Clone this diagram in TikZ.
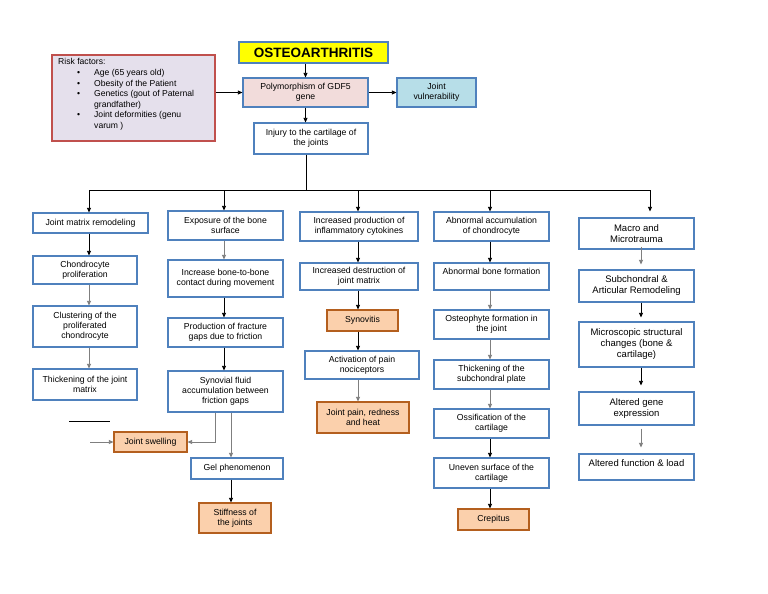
\documentclass[tikz,border=0pt]{standalone}
\usepackage{fontspec}
\setmainfont{Liberation Sans}
\usetikzlibrary{arrows.meta,calc}
\definecolor{bxblue}{HTML}{4F81BD}
\definecolor{riskred}{HTML}{C0504D}
\definecolor{riskfill}{HTML}{E5E0EC}
\definecolor{polyfill}{HTML}{F2DCDB}
\definecolor{vulnfill}{HTML}{B7DEE8}
\definecolor{orfill}{HTML}{FBD0AC}
\definecolor{ordraw}{HTML}{B45F1E}
\definecolor{titlefill}{HTML}{FFFF00}
\definecolor{lngray}{HTML}{7F7F7F}
\tikzset{
  bx/.style={draw=bxblue, line width=1.2pt, fill=white, align=center, inner sep=2pt,
    font=\fontsize{8.7}{10.2}\selectfont},
  bxw/.style={bx, font=\fontsize{9.5}{11}\selectfont},
  orbox/.style={bx, draw=ordraw, fill=orfill},
  riskbox/.style={draw=riskred, line width=2.2pt, fill=riskfill, minimum width=163pt, minimum height=86pt},
  titlebox/.style={draw=bxblue, line width=1.2pt, fill=titlefill, font=\fontsize{13.5}{15}\selectfont\bfseries,
    minimum width=149pt, minimum height=21pt, inner sep=0pt},
  arr/.style={draw=black, line width=0.8pt, -{Triangle[length=4.5pt,width=4pt]}},
  arrg/.style={arr, draw=lngray},
  ln/.style={draw=black, line width=0.8pt},
  sz/.style 2 args={minimum width=#1pt, minimum height=#2pt},
}
\begin{document}
\begin{tikzpicture}[x=1pt,y=-1pt]
\useasboundingbox[fill=white] (0,0) rectangle (768,594);

% top
\node[titlebox] (title) at (313.5,52.5) {OSTEOARTHRITIS};
\node[riskbox] (risk) at (133.5,98) {};
\node[anchor=north west, align=left, inner sep=0pt, font=\fontsize{8.6}{10.6}\selectfont] (risktext) at (58,58.5)
{Risk factors:\\
\makebox[36pt][l]{\hspace*{19pt}\textbullet}Age (65 years old)\\
\makebox[36pt][l]{\hspace*{19pt}\textbullet}Obesity of the Patient\\
\makebox[36pt][l]{\hspace*{19pt}\textbullet}Genetics (gout of Paternal\\
\hspace*{36pt}grandfather)\\
\makebox[36pt][l]{\hspace*{19pt}\textbullet}Joint deformities (genu\\
\hspace*{36pt}varum )};
\node[bx, fill=polyfill, sz={125}{29}] (poly) at (305.5,92.5) {Polymorphism of GDF5\\gene};
\node[bx, fill=vulnfill, sz={79}{29}] (vuln) at (436.5,92.5) {Joint\\vulnerability};
\node[bx, sz={114}{31}] (injury) at (311,138.5) {Injury to the cartilage of\\the joints};

\draw[arr] (title.south -| poly.north) -- (poly.north);
\draw[arr] (poly.west -| risk.east) -- (poly.west);
\draw[arr] (poly.east) -- (vuln.west);
\draw[arr] (poly.south) -- (poly.south |- injury.north);

% bus
\coordinate (bus) at (306,190);
\coordinate (busL) at (89,190);
\coordinate (busR) at (650,190);
\draw[ln] (injury.south -| bus) -- (bus);
\draw[ln] (busL) -- (busR);

% column 1
\node[bx, sz={115}{20}] (jmr) at (90.5,223) {Joint matrix remodeling};
\node[bx, sz={104}{28}] (chon) at (85,270) {Chondrocyte\\proliferation};
\node[bx, sz={104}{41}] (clus) at (85,326.5) {Clustering of the\\proliferated\\chondrocyte};
\node[bx, sz={104}{31}] (thjm) at (85,384.5) {Thickening of the joint\\matrix};
\draw[arr] (busL) -- (busL |- jmr.north);
\draw[arr] (jmr.south -| busL) -- (chon.north -| busL);
\draw[arrg] (chon.south -| busL) -- (clus.north -| busL);
\draw[arrg] (clus.south -| busL) -- (thjm.north -| busL);

% column 2
\coordinate (c2) at (224,190);
\node[bx, sz={115}{29}] (expo) at (225.5,225.5) {Exposure of the bone\\surface};
\node[bx, sz={115}{37}] (incr) at (225.5,278.5) {Increase bone-to-bone\\contact during movement};
\node[bx, sz={115}{29}] (prod) at (225.5,332.5) {Production of fracture\\gaps due to friction};
\node[bx, sz={115}{41}] (syno) at (225.5,391.5) {Synovial fluid\\accumulation between\\friction gaps};
\node[orbox, sz={73}{20}] (swell) at (150.5,442) {Joint swelling};
\node[bx, sz={92}{21}] (gel) at (237,468.5) {Gel phenomenon};
\node[orbox, sz={72}{30}] (stiff) at (235,518) {Stiffness of\\the joints};
\draw[arr] (c2) -- (c2 |- expo.north);
\draw[arrg] (expo.south -| c2) -- (incr.north -| c2);
\draw[arr] (incr.south -| c2) -- (prod.north -| c2);
\draw[arr] (prod.south -| c2) -- (syno.north -| c2);
\coordinate (s1) at ($(syno.south)+(-10.5,0)$);
\coordinate (s2) at ($(syno.south)+(5.5,0)$);
\draw[arrg] (s1) |- (swell.east);
\draw[arrg] (s2) -- (s2 |- gel.north);
\draw[arr] (gel.south -| s2) -- (stiff.north -| s2);
\coordinate (swin) at (90,442);
\draw[arrg] (swin) -- (swell.west);
\coordinate (strayA) at (69,421);
\coordinate (strayB) at (110,421);
\draw[ln] (strayA) -- (strayB);

% column 3
\coordinate (c3) at (358,190);
\node[bx, sz={118}{29}] (ipic) at (359,226.5) {Increased production of\\inflammatory cytokines};
\node[bx, sz={118}{27}] (idjm) at (359,276.5) {Increased destruction of\\joint matrix};
\node[orbox, sz={71}{21}] (synov) at (362.5,320.5) {Synovitis};
\node[bx, sz={114}{28}] (actv) at (362,365) {Activation of pain\\nociceptors};
\node[orbox, sz={92}{31}] (jpain) at (363,417.5) {Joint pain, redness\\and heat};
\draw[arr] (c3) -- (c3 |- ipic.north);
\draw[arr] (ipic.south -| c3) -- (idjm.north -| c3);
\draw[arr] (idjm.south -| c3) -- (synov.north -| c3);
\draw[arr] (synov.south -| c3) -- (actv.north -| c3);
\draw[arrg] (actv.south -| c3) -- (jpain.north -| c3);

% column 4
\coordinate (c4) at (490,190);
\node[bx, sz={115}{29}] (aac) at (491.5,226.5) {Abnormal accumulation\\of chondrocyte};
\node[bx, sz={115}{27}, text depth=10pt] (abf) at (491.5,276.5) {Abnormal bone formation};
\node[bx, sz={115}{29}] (osteo) at (491.5,324.5) {Osteophyte formation in\\the joint};
\node[bx, sz={115}{29}] (thsp) at (491.5,374.5) {Thickening of the\\subchondral plate};
\node[bx, sz={115}{29}] (ossi) at (491.5,423.5) {Ossification of the\\cartilage};
\node[bx, sz={115}{30}] (unev) at (491.5,473) {Uneven surface of the\\cartilage};
\node[orbox, sz={71}{21}] (crep) at (493.5,519.5) {Crepitus};
\draw[arr] (c4) -- (c4 |- aac.north);
\draw[arr] (aac.south -| c4) -- (abf.north -| c4);
\draw[arrg] (abf.south -| c4) -- (osteo.north -| c4);
\draw[arrg] (osteo.south -| c4) -- (thsp.north -| c4);
\draw[arrg] (thsp.south -| c4) -- (ossi.north -| c4);
\draw[arr] (ossi.south -| c4) -- (unev.north -| c4);
\draw[arr] (unev.south -| c4) -- (crep.north -| c4);

% column 5
\coordinate (c5) at (641,190);
\node[bxw, sz={115}{31}] (macro) at (636.5,233.5) {Macro and\\Microtrauma};
\node[bxw, sz={115}{32}] (subc) at (636.5,286) {Subchondral \&\\Articular Remodeling};
\node[bxw, sz={115}{45}] (micro) at (636.5,344.5) {Microscopic structural\\changes (bone \&\\cartilage)};
\node[bxw, sz={115}{33}] (agene) at (636.5,408.5) {Altered gene\\expression};
\node[bxw, sz={115}{26}, text depth=8pt] (afunc) at (636.5,467) {Altered function \& load};
\draw[arr, shorten >=6pt] (busR) -- (busR |- macro.north);
\draw[arrg, shorten >=5pt, shorten <=-3pt] (macro.south -| c5) -- (subc.north -| c5);
\draw[arr, shorten >=4pt] (subc.south -| c5) -- (micro.north -| c5);
\draw[arr, shorten >=6pt] (micro.south -| c5) -- (agene.north -| c5);
\draw[arrg, shorten >=6pt, shorten <=3pt] (agene.south -| c5) -- (afunc.north -| c5);
\end{tikzpicture}
\end{document}
